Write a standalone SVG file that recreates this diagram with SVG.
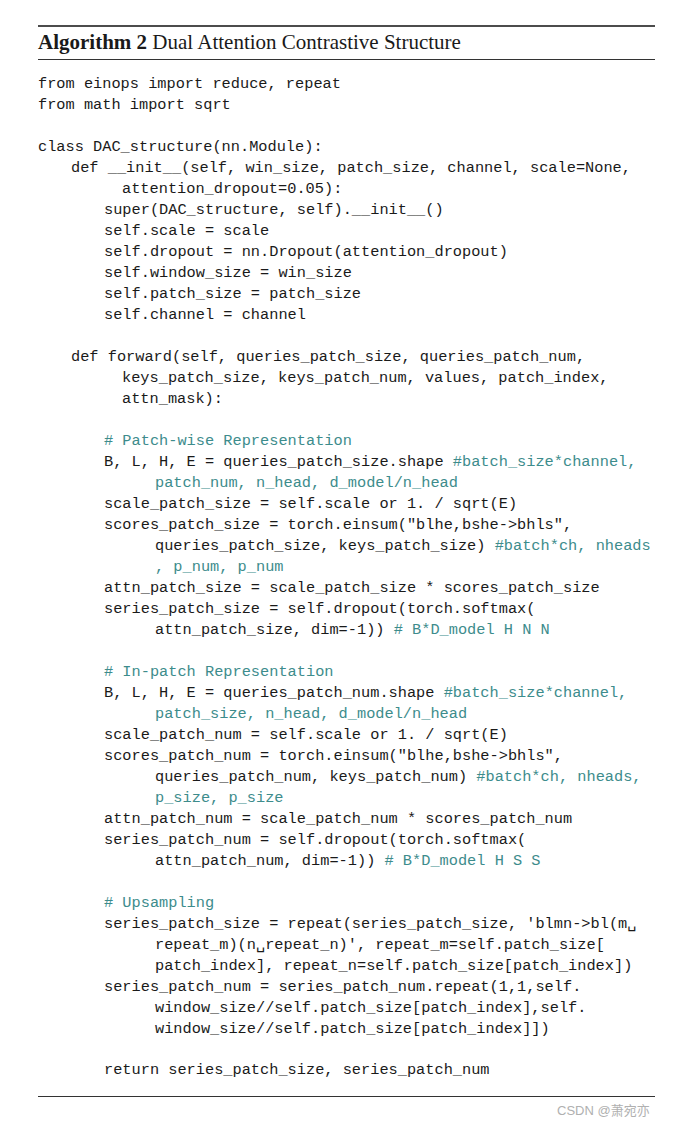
<svg xmlns="http://www.w3.org/2000/svg" width="673" height="1128" viewBox="0 0 673 1128">
<style>
text{font-family:"Liberation Mono","DejaVu Sans Mono",monospace;font-size:15.3px;fill:#1a1a1a;white-space:pre}
.c{fill:#3d8c8c}
.t{font-family:"Liberation Serif",serif;font-size:21px}
.w{font-family:"Liberation Sans","Noto Sans CJK SC",sans-serif;font-size:13px;fill:#b0b0b0}
</style>
<rect width="673" height="1128" fill="#fff"/>
<line x1="38" y1="26" x2="655" y2="26" stroke="#111" stroke-width="1.6"/>
<line x1="38" y1="59.5" x2="655" y2="59.5" stroke="#333" stroke-width="1"/>
<line x1="38" y1="1096.5" x2="655" y2="1096.5" stroke="#333" stroke-width="1"/>
<text class="t" x="38" y="49"><tspan font-weight="bold">Algorithm 2</tspan> Dual Attention Contrastive Structure</text>
<g id="code">
<text x="38" y="88">from einops import reduce, repeat</text>
<text x="38" y="109">from math import sqrt</text>
<text x="38" y="151">class DAC_structure(nn.Module):</text>
<text x="71" y="172">def __init__(self, win_size, patch_size, channel, scale=None,</text>
<text x="122" y="193">attention_dropout=0.05):</text>
<text x="104" y="214">super(DAC_structure, self).__init__()</text>
<text x="104" y="235">self.scale = scale</text>
<text x="104" y="256">self.dropout = nn.Dropout(attention_dropout)</text>
<text x="104" y="277">self.window_size = win_size</text>
<text x="104" y="298">self.patch_size = patch_size</text>
<text x="104" y="319">self.channel = channel</text>
<text x="71" y="361">def forward(self, queries_patch_size, queries_patch_num,</text>
<text x="122" y="382">keys_patch_size, keys_patch_num, values, patch_index,</text>
<text x="122" y="403">attn_mask):</text>
<text x="104" y="445" class="c"># Patch-wise Representation</text>
<text x="104" y="466">B, L, H, E = queries_patch_size.shape <tspan class="c">#batch_size*channel,</tspan></text>
<text x="155" y="487" class="c">patch_num, n_head, d_model/n_head</text>
<text x="104" y="508">scale_patch_size = self.scale or 1. / sqrt(E)</text>
<text x="104" y="529">scores_patch_size = torch.einsum("blhe,bshe->bhls",</text>
<text x="155" y="550">queries_patch_size, keys_patch_size) <tspan class="c">#batch*ch, nheads</tspan></text>
<text x="155" y="571" class="c">, p_num, p_num</text>
<text x="104" y="592">attn_patch_size = scale_patch_size * scores_patch_size</text>
<text x="104" y="613">series_patch_size = self.dropout(torch.softmax(</text>
<text x="155" y="634">attn_patch_size, dim=-1)) <tspan class="c"># B*D_model H N N</tspan></text>
<text x="104" y="676" class="c"># In-patch Representation</text>
<text x="104" y="697">B, L, H, E = queries_patch_num.shape <tspan class="c">#batch_size*channel,</tspan></text>
<text x="155" y="718" class="c">patch_size, n_head, d_model/n_head</text>
<text x="104" y="739">scale_patch_num = self.scale or 1. / sqrt(E)</text>
<text x="104" y="760">scores_patch_num = torch.einsum("blhe,bshe->bhls",</text>
<text x="155" y="781">queries_patch_num, keys_patch_num) <tspan class="c">#batch*ch, nheads,</tspan></text>
<text x="155" y="802" class="c">p_size, p_size</text>
<text x="104" y="823">attn_patch_num = scale_patch_num * scores_patch_num</text>
<text x="104" y="844">series_patch_num = self.dropout(torch.softmax(</text>
<text x="155" y="865">attn_patch_num, dim=-1)) <tspan class="c"># B*D_model H S S</tspan></text>
<text x="104" y="907" class="c"># Upsampling</text>
<text x="104" y="928">series_patch_size = repeat(series_patch_size, 'blmn-&gt;bl(m␣</text>
<text x="155" y="949">repeat_m)(n␣repeat_n)', repeat_m=self.patch_size[</text>
<text x="155" y="970">patch_index], repeat_n=self.patch_size[patch_index])</text>
<text x="104" y="991">series_patch_num = series_patch_num.repeat(1,1,self.</text>
<text x="155" y="1012">window_size//self.patch_size[patch_index],self.</text>
<text x="155" y="1033">window_size//self.patch_size[patch_index]])</text>
<text x="104" y="1074">return series_patch_size, series_patch_num</text>
</g>
<text class="w" x="557" y="1115">CSDN @萧宛亦</text>
</svg>
